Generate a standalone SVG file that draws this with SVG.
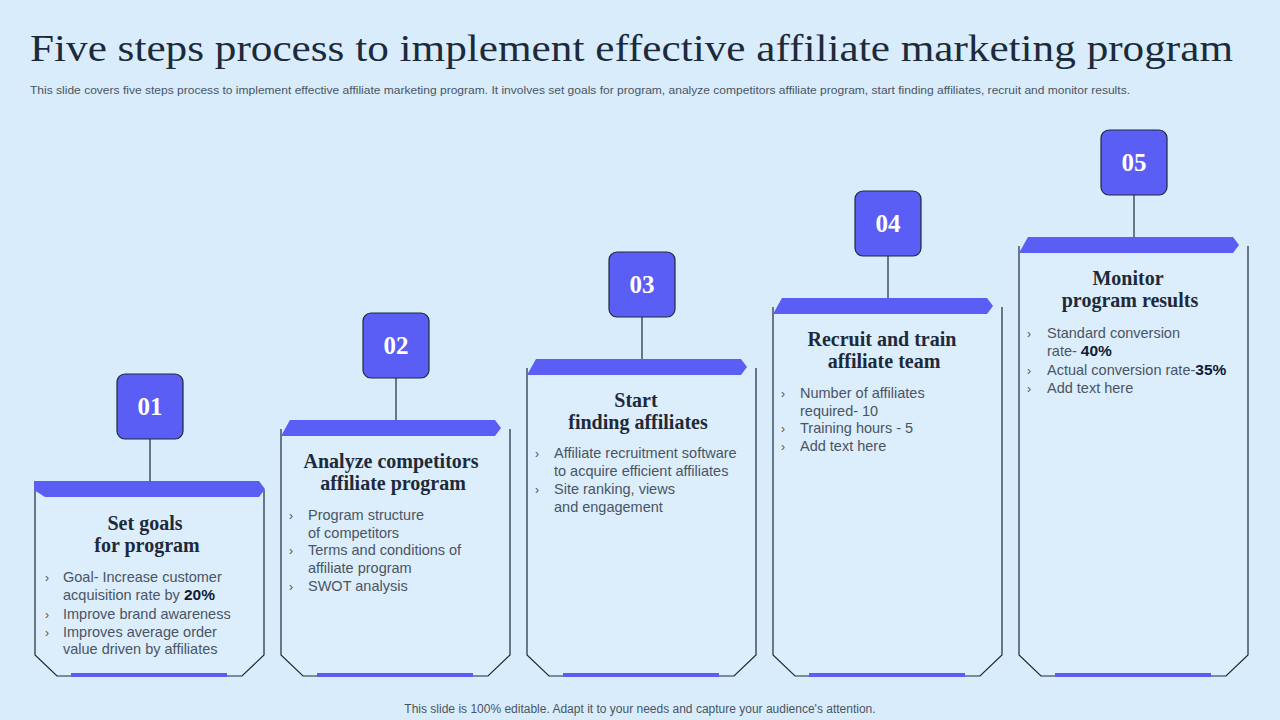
<svg xmlns="http://www.w3.org/2000/svg" width="1280" height="720" viewBox="0 0 1280 720">
<defs>
<style>
.bg{fill:#d9ecfb}
.card{fill:#dcedfc;stroke:#1d2a3a;stroke-width:1.2}
.band{fill:#5b5ef4}
.bar{fill:#5b5ef4}
.num{fill:#5b5ef4;stroke:#1d2a3a;stroke-width:1.2}
.numt{font-family:"Liberation Serif",serif;font-weight:bold;font-size:25px;fill:#fff;text-anchor:middle}
.ln{stroke:#1d2a3a;stroke-width:1.2}
.h{font-family:"Liberation Serif","DejaVu Serif",serif;font-weight:bold;font-size:20px;fill:#1d2a3a;text-anchor:middle}
.b{font-family:"Liberation Sans",Arial,sans-serif;font-size:14.5px;fill:#4a5563}
.b tspan.k{font-weight:bold;fill:#111c33;font-size:15.5px}
.ar{font-family:"Liberation Sans",sans-serif;font-size:12px;fill:#4a5563}
</style>
<g id="cardShape">
<path id="cs" class="card" d="M0,9 V174 L22,195 H207 L229,174 V9"/>
</g>
</defs>
<rect class="bg" width="1280" height="720"/>
<text x="30" y="61" font-family="Liberation Serif,serif" font-size="37" fill="#1d2a3a" textLength="1203" lengthAdjust="spacingAndGlyphs">Five steps process to implement effective affiliate marketing program</text>
<text x="30" y="94" font-family="Liberation Sans,sans-serif" font-size="11" fill="#4a5563" textLength="1100" lengthAdjust="spacingAndGlyphs">This slide covers five  steps process to implement effective affiliate marketing program. It involves set goals for program, analyze competitors affiliate program, start finding affiliates, recruit and monitor results.</text>

<g id="connectors">
<line class="ln" x1="150" y1="439" x2="150" y2="481"/>
<line class="ln" x1="396" y1="378" x2="396" y2="420"/>
<line class="ln" x1="642" y1="317" x2="642" y2="359"/>
<line class="ln" x1="888" y1="256" x2="888" y2="298"/>
<line class="ln" x1="1134" y1="195" x2="1134" y2="237"/>
</g>

<g id="step1" transform="translate(35,481)">
<use href="#cs"/>
<path class="band" d="M-1,0 H224 L230,8 L224,16 H10 L-1,9 Z"/>
<rect class="bar" x="36" y="192" width="156" height="4"/>
<rect class="num" x="82" y="-107" width="66" height="65" rx="8"/>
<text class="numt" x="115" y="-66">01</text>
<text class="h" x="110" y="49">Set goals</text>
<text class="h" x="112" y="71">for program</text>
<text class="ar" x="10" y="101">›</text><text class="ar" x="10" y="138">›</text><text class="ar" x="10" y="156">›</text>
<text class="b" x="28" y="101">Goal- Increase customer</text>
<text class="b" x="28" y="119">acquisition rate by <tspan class="k">20%</tspan></text>
<text class="b" x="28" y="138">Improve brand awareness</text>
<text class="b" x="28" y="156">Improves average order</text>
<text class="b" x="28" y="173">value driven by affiliates</text>
</g>

<g id="step2" transform="translate(281,420)">
<path class="card" d="M0,9 V235 L22,256 H207 L229,235 V9"/>
<path class="band" d="M9,0 H214 L220,8 L214,16 H0 Z"/>
<rect class="bar" x="36" y="253" width="156" height="4"/>
<rect class="num" x="82" y="-107" width="66" height="65" rx="8"/>
<text class="numt" x="115" y="-66">02</text>
<text class="h" x="110" y="48">Analyze competitors</text>
<text class="h" x="112" y="70">affiliate program</text>
<text class="ar" x="8" y="100">›</text><text class="ar" x="8" y="135">›</text><text class="ar" x="8" y="171">›</text>
<text class="b" x="27" y="100">Program structure</text>
<text class="b" x="27" y="118">of competitors</text>
<text class="b" x="27" y="135">Terms and conditions of</text>
<text class="b" x="27" y="153">affiliate program</text>
<text class="b" x="27" y="171">SWOT analysis</text>
</g>

<g id="step3" transform="translate(527,359)">
<path class="card" d="M0,9 V296 L22,317 H207 L229,296 V9"/>
<path class="band" d="M9,0 H214 L220,8 L214,16 H0 Z"/>
<rect class="bar" x="36" y="314" width="156" height="4"/>
<rect class="num" x="82" y="-107" width="66" height="65" rx="8"/>
<text class="numt" x="115" y="-66">03</text>
<text class="h" x="109" y="48">Start</text>
<text class="h" x="111" y="70">finding affiliates</text>
<text class="ar" x="8" y="99">›</text><text class="ar" x="8" y="135">›</text>
<text class="b" x="27" y="99">Affiliate recruitment software</text>
<text class="b" x="27" y="117">to acquire efficient affiliates</text>
<text class="b" x="27" y="135">Site ranking, views</text>
<text class="b" x="27" y="153">and engagement</text>
</g>

<g id="step4" transform="translate(773,298)">
<path class="card" d="M0,9 V357 L22,378 H207 L229,357 V9"/>
<path class="band" d="M9,0 H214 L220,8 L214,16 H0 Z"/>
<rect class="bar" x="36" y="375" width="156" height="4"/>
<rect class="num" x="82" y="-107" width="66" height="65" rx="8"/>
<text class="numt" x="115" y="-66">04</text>
<text class="h" x="109" y="48">Recruit and train</text>
<text class="h" x="111" y="70">affiliate team</text>
<text class="ar" x="8" y="100">›</text><text class="ar" x="8" y="135">›</text><text class="ar" x="8" y="153">›</text>
<text class="b" x="27" y="100">Number of affiliates</text>
<text class="b" x="27" y="118">required- 10</text>
<text class="b" x="27" y="135">Training hours - 5</text>
<text class="b" x="27" y="153">Add text here</text>
</g>

<g id="step5" transform="translate(1019,237)">
<path class="card" d="M0,9 V418 L22,439 H207 L229,418 V9"/>
<path class="band" d="M9,0 H214 L220,8 L214,16 H0 Z"/>
<rect class="bar" x="36" y="436" width="156" height="4"/>
<rect class="num" x="82" y="-107" width="66" height="65" rx="8"/>
<text class="numt" x="115" y="-66">05</text>
<text class="h" x="109" y="48">Monitor</text>
<text class="h" x="111" y="70">program results</text>
<text class="ar" x="8" y="101">›</text><text class="ar" x="8" y="138">›</text><text class="ar" x="8" y="156">›</text>
<text class="b" x="28" y="101">Standard conversion</text>
<text class="b" x="28" y="119">rate- <tspan class="k">40%</tspan></text>
<text class="b" x="28" y="138">Actual conversion rate-<tspan class="k">35%</tspan></text>
<text class="b" x="28" y="156">Add text here</text>
</g>

<text x="640" y="713" text-anchor="middle" font-family="Liberation Sans,sans-serif" font-size="12" fill="#4a5563">This slide is 100% editable. Adapt it to your needs and capture your audience's attention.</text>
</svg>
